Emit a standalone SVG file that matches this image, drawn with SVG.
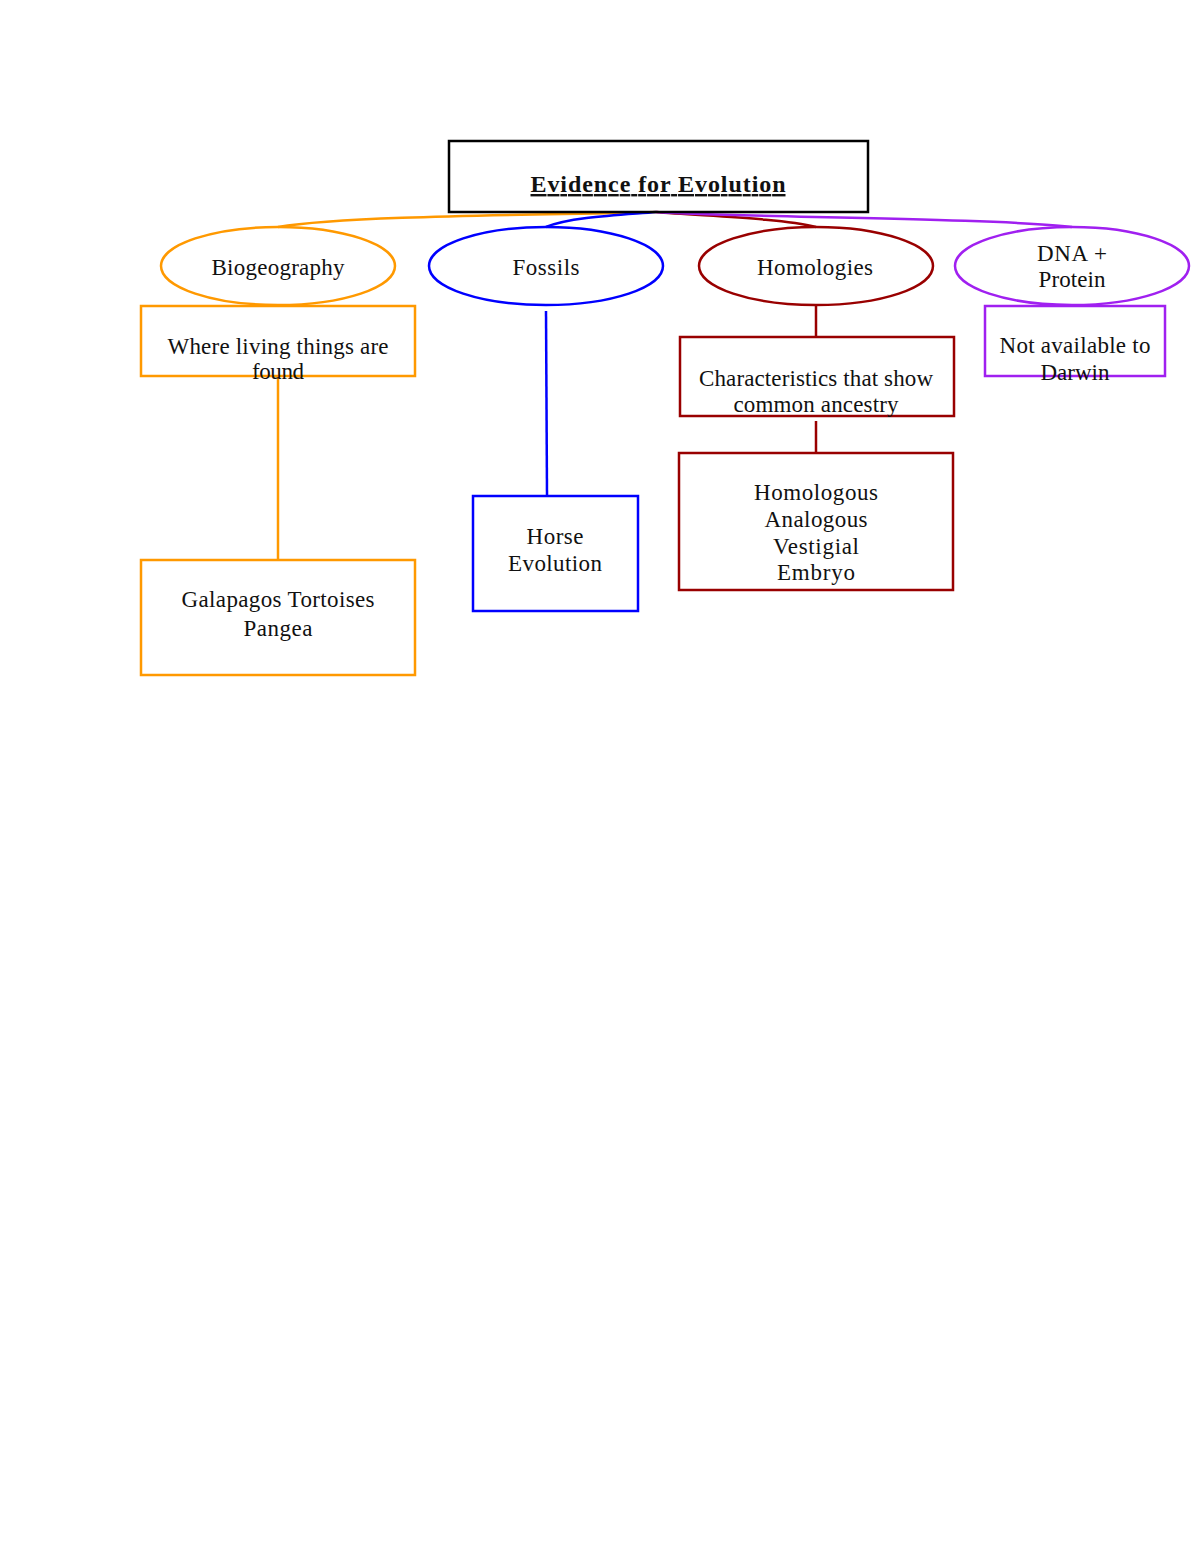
<svg xmlns="http://www.w3.org/2000/svg" width="1200" height="1553" viewBox="0 0 1200 1553">
<style>
text{font-family:"Liberation Serif","Times New Roman",serif;font-size:23px;fill:#111;text-anchor:middle}
.title{font-weight:bold;font-size:24px;text-decoration:underline}
.s{fill:none;stroke-width:2.5}
.or{stroke:#FF9900}
.bl{stroke:#0000FF}
.mr{stroke:#990000}
.pu{stroke:#A020F0}
.bk{stroke:#000}
</style>
<rect width="1200" height="1553" fill="#fff"/>
<g id="connectors">
<path class="s or" d="M656,212 C560,215 350,215 278,227"/>
<path class="s bl" d="M656,212 C620,215 570,217 546,227"/>
<path class="s mr" d="M656,212 C700,216 780,218 816,227"/>
<path class="s pu" d="M656,212 C720,217 1000,218 1072,227"/>
<line class="s or" x1="278" y1="376" x2="278" y2="560"/>
<line class="s bl" x1="546" y1="311" x2="547" y2="496"/>
<line class="s mr" x1="816" y1="306" x2="816" y2="337"/>
<line class="s mr" x1="816" y1="421" x2="816" y2="453"/>
</g>
<g id="title">
<rect class="s bk" x="449" y="141" width="419" height="71"/>
<text class="title" x="658" y="192" textLength="255" lengthAdjust="spacing">Evidence for Evolution</text>
</g>
<g id="biogeography">
<ellipse class="s or" cx="278" cy="266" rx="117" ry="39"/>
<text x="278" y="275" textLength="133" lengthAdjust="spacing">Biogeography</text>
</g>
<g id="fossils">
<ellipse class="s bl" cx="546" cy="266" rx="117" ry="39"/>
<text x="546" y="275" textLength="67" lengthAdjust="spacing">Fossils</text>
</g>
<g id="homologies">
<ellipse class="s mr" cx="816" cy="266" rx="117" ry="39"/>
<text x="815" y="275" textLength="116" lengthAdjust="spacing">Homologies</text>
</g>
<g id="dna">
<ellipse class="s pu" cx="1072" cy="266" rx="117" ry="39"/>
<text x="1072" y="261" textLength="70" lengthAdjust="spacing">DNA +</text>
<text x="1072" y="287" textLength="67" lengthAdjust="spacing">Protein</text>
</g>
<g id="where">
<rect class="s or" x="141" y="306" width="274" height="70"/>
<text x="278" y="354" textLength="221" lengthAdjust="spacing">Where living things are</text>
<text x="278" y="379" textLength="52" lengthAdjust="spacing">found</text>
</g>
<g id="galapagos">
<rect class="s or" x="141" y="560" width="274" height="115"/>
<text x="278" y="607" textLength="193" lengthAdjust="spacing">Galapagos Tortoises</text>
<text x="278" y="636" textLength="69" lengthAdjust="spacing">Pangea</text>
</g>
<g id="horse">
<rect class="s bl" x="473" y="496" width="165" height="115"/>
<text x="555" y="544" textLength="57" lengthAdjust="spacing">Horse</text>
<text x="555" y="571" textLength="94" lengthAdjust="spacing">Evolution</text>
</g>
<g id="characteristics">
<rect class="s mr" x="680" y="337" width="274" height="79"/>
<text x="816" y="386" textLength="234" lengthAdjust="spacing">Characteristics that show</text>
<text x="816" y="412" textLength="165" lengthAdjust="spacing">common ancestry</text>
</g>
<g id="types">
<rect class="s mr" x="679" y="453" width="274" height="137"/>
<text x="816" y="500" textLength="124" lengthAdjust="spacing">Homologous</text>
<text x="816" y="527" textLength="103" lengthAdjust="spacing">Analogous</text>
<text x="816" y="554" textLength="86" lengthAdjust="spacing">Vestigial</text>
<text x="816" y="580" textLength="78" lengthAdjust="spacing">Embryo</text>
</g>
<g id="notavailable">
<rect class="s pu" x="985" y="306" width="180" height="70"/>
<text x="1075" y="353" textLength="151" lengthAdjust="spacing">Not available to</text>
<text x="1075" y="380" textLength="69" lengthAdjust="spacing">Darwin</text>
</g>
</svg>
